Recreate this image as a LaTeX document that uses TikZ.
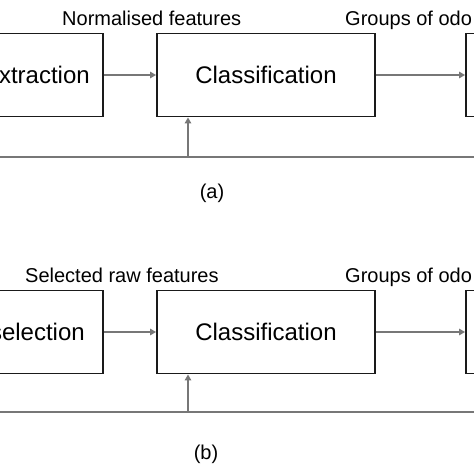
\documentclass[tikz,border=0pt]{standalone}
\usepackage{fontspec}
\setmainfont{Liberation Sans}
\usetikzlibrary{positioning, arrows.meta, calc}
\definecolor{edge}{HTML}{1a1a1a}
\definecolor{wire}{HTML}{777777}

\begin{document}
\begin{tikzpicture}[x=1pt, y=-1pt,
  box/.style={draw=edge, line width=1.9pt, minimum width=218pt, minimum height=83pt, inner sep=0pt, font=\fontsize{24}{28}\selectfont},
  boxtxt/.style={inner sep=0pt, font=\fontsize{24}{28}\selectfont},
  lbl/.style={inner sep=0pt, anchor=base west, font=\fontsize{20}{24}\selectfont},
  tag/.style={inner sep=0pt, font=\fontsize{20}{24}\selectfont},
  arr/.style={-{Triangle[length=6pt, width=6.5pt]}, line width=1.5pt, wire},
  fb/.style={line width=1.7pt, wire}
]
  \useasboundingbox (0,0) rectangle (474,474);
  \clip (0,0) rectangle (474,474);
  % panel (a)
  \node[box, minimum width=150pt] (fxa) at (28,75) {};
  \node[boxtxt, left=14pt of fxa.east] (fxta) {xtraction};
  \node[box] (clsa) at (266,75) {Classification};
  \node[box, minimum width=100pt] (grpa) at (516,75) {};
  \draw[arr] (fxa) -- (clsa);
  \draw[arr] (clsa) -- (grpa);
  \node[lbl] (nfa) at (62,25) {Normalised features};
  \node[lbl] (goa) at (345,25) {Groups of odo};
  \coordinate (fla) at (-5,157);
  \coordinate (fra) at (480,157);
  \coordinate (fua) at (188,157);
  \draw[fb] (fla) -- (fra);
  \draw[arr] (fua) -- (fua |- clsa.south);
  \node[tag] (pa) at (212,193) {(a)};
  % panel (b)
  \node[box, minimum width=150pt] (fxb) at (28,332) {};
  \node[boxtxt, left=19pt of fxb.east] (fxtb) {selection};
  \node[box] (clsb) at (266,332) {Classification};
  \node[box, minimum width=100pt] (grpb) at (516,332) {};
  \draw[arr] (fxb) -- (clsb);
  \draw[arr] (clsb) -- (grpb);
  \node[lbl] (srb) at (25,282) {Selected raw features};
  \node[lbl] (gob) at (345,282) {Groups of odo};
  \coordinate (flb) at (-5,412);
  \coordinate (frb) at (480,412);
  \coordinate (fub) at (188,412);
  \draw[fb] (flb) -- (frb);
  \draw[arr] (fub) -- (fub |- clsb.south);
  \node[tag] (pb) at (206,454) {(b)};
\end{tikzpicture}
\end{document}
